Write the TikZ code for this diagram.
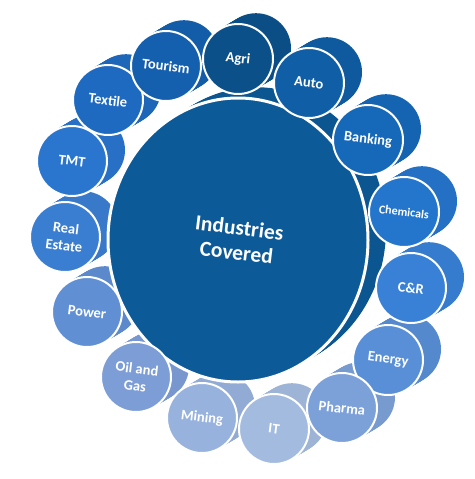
\documentclass[tikz,border=0pt]{standalone}
\usepackage{fontspec}
\setmainfont{Carlito}
\usetikzlibrary{shapes.geometric}
\definecolor{hubblue}{RGB}{12,90,152}
\definecolor{agriblue}{RGB}{12,80,138}
\definecolor{autoblue}{RGB}{16,94,166}
\definecolor{bankblue}{RGB}{22,104,184}
\definecolor{chemblue}{RGB}{36,117,204}
\definecolor{crblue}{RGB}{56,129,214}
\definecolor{energyblue}{RGB}{88,143,214}
\definecolor{pharmablue}{RGB}{124,160,216}
\definecolor{itblue}{RGB}{164,187,224}
\definecolor{miningblue}{RGB}{152,178,222}
\definecolor{oilblue}{RGB}{124,157,214}
\definecolor{powerblue}{RGB}{96,143,212}
\definecolor{realblue}{RGB}{58,126,210}
\definecolor{tmtblue}{RGB}{42,117,206}
\definecolor{textileblue}{RGB}{30,106,192}
\definecolor{tourblue}{RGB}{20,96,174}
\tikzset{
  sector/.style={circle, draw=white, line width=2pt, minimum size=70pt, inner sep=0pt,
    text=white, align=center, rotate=-7, font=\bfseries\fontsize{14.5}{17}\selectfont},
  hub/.style={ellipse, draw=white, line width=3pt, fill=hubblue, minimum width=260pt, minimum height=284pt}
}

\begin{document}
\begin{tikzpicture}[x=1pt, y=-1pt]
  \useasboundingbox (0,0) rectangle (474,479);
  % depth behind the hub
  \foreach \t in {0,1,...,12}
    \fill[hubblue!95!black] (238+1.5*\t, 240-0.9*\t) ellipse [x radius=130, y radius=142];
  % depth behind the sectors
  \foreach \x/\y/\c in {238/59/agriblue, 309/83/autoblue, 368/140/bankblue, 404/212/chemblue,
      411/288/crblue, 388/360/energyblue, 342/408/pharmablue, 274/429/itblue, 202/418/miningblue,
      136/377/oilblue, 87/312/powerblue, 65/237/realblue, 72/161/tmtblue, 108/100/textileblue,
      166/66/tourblue}{
    \foreach \t in {0,1,...,12}
      \fill[\c!96!black] (\x+1.5*\t, \y-0.9*\t) circle [radius=35];
  }
  \node[hub] (hub) at (238,240) {};
  \node[rotate=-7, text=white, align=center, font=\bfseries\fontsize{21.5}{25}\selectfont] (hubtext) at (hub.center) {Industries\\Covered};
  \foreach \x/\y/\c/\n/\l in {238/59/agriblue/agri/Agri, 309/83/autoblue/auto/Auto,
      368/140/bankblue/banking/Banking,
      404/212/chemblue/chemicals/{\fontsize{12}{14}\selectfont Chemicals},
      411/288/crblue/cr/C\&R, 388/360/energyblue/energy/Energy, 342/408/pharmablue/pharma/Pharma,
      274/429/itblue/it/IT, 202/418/miningblue/mining/Mining, 136/377/oilblue/oil/{Oil and\\Gas},
      87/312/powerblue/power/Power, 65/237/realblue/realestate/{Real\\Estate}, 72/161/tmtblue/tmt/TMT,
      108/100/textileblue/textile/Textile, 166/66/tourblue/tourism/Tourism}
    \node[sector, fill=\c] (\n) at (\x,\y) {\l};
\end{tikzpicture}
\end{document}
